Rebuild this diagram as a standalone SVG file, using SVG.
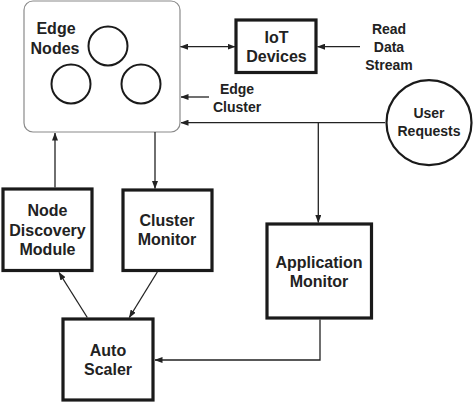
<svg xmlns="http://www.w3.org/2000/svg" width="474" height="403" viewBox="0 0 474 403">
<style>
text{font-family:"Liberation Sans",Arial,sans-serif;font-weight:bold;fill:#222;text-anchor:middle}
.n{font-size:16px}
.s{font-size:14px}
.box{fill:#fff;stroke:#1a1a1a;stroke-width:3.2}
.cl{fill:none;stroke:#1a1a1a;stroke-width:2}
.ln{fill:none;stroke:#222;stroke-width:1.3}
</style>
<defs>
<marker id="ah" markerWidth="8" markerHeight="6" refX="7.5" refY="3" orient="auto" markerUnits="userSpaceOnUse">
<path d="M0,0 L8,3 L0,6 Z" fill="#222"/>
</marker>
<marker id="as" markerWidth="8" markerHeight="6" refX="0.5" refY="3" orient="auto" markerUnits="userSpaceOnUse">
<path d="M8,0 L0,3 L8,6 Z" fill="#222"/>
</marker>
</defs>
<g id="edge-cluster">
<rect x="24" y="1" width="156" height="131" rx="9" fill="#fff" stroke="#8a8a8a" stroke-width="1.2"/>
<circle class="cl" cx="108" cy="46" r="19.5"/>
<circle class="cl" cx="71" cy="84" r="19.5"/>
<circle class="cl" cx="141" cy="84" r="19.5"/>
<text class="n" x="56" y="34">Edge</text>
<text class="n" x="55" y="53.5">Nodes</text>
</g>
<g id="iot-devices">
<rect class="box" x="236" y="20" width="80" height="52.5"/>
<text class="n" x="276.5" y="42.5">IoT</text>
<text class="n" x="276.5" y="62">Devices</text>
</g>
<g id="user-requests">
<circle cx="429" cy="122.7" r="42.5" fill="#fff" stroke="#1a1a1a" stroke-width="2.2"/>
<text class="s" x="429" y="118">User</text>
<text class="s" x="429" y="136">Requests</text>
</g>
<g id="node-discovery">
<rect class="box" x="3" y="189" width="89" height="81.5"/>
<text class="n" x="47.5" y="216">Node</text>
<text class="n" x="47.5" y="235.5">Discovery</text>
<text class="n" x="47.5" y="255">Module</text>
</g>
<g id="cluster-monitor">
<rect class="box" x="123" y="190" width="89" height="80.5"/>
<text class="n" x="167" y="226">Cluster</text>
<text class="n" x="167" y="245">Monitor</text>
</g>
<g id="application-monitor">
<rect class="box" x="267" y="224" width="104.5" height="94"/>
<text class="n" x="319" y="268">Application</text>
<text class="n" x="319" y="287">Monitor</text>
</g>
<g id="auto-scaler">
<rect class="box" x="63" y="319" width="90" height="81"/>
<text class="n" x="108" y="355.5">Auto</text>
<text class="n" x="108" y="375">Scaler</text>
</g>
<g id="connectors">
<line class="ln" x1="180.5" y1="46.7" x2="235" y2="46.7" marker-start="url(#as)" marker-end="url(#ah)"/>
<line class="ln" x1="360" y1="46.7" x2="317.5" y2="46.7" marker-end="url(#ah)"/>
<line class="ln" x1="209" y1="97" x2="181" y2="97" marker-end="url(#ah)"/>
<line class="ln" x1="385" y1="122.7" x2="181" y2="122.7" marker-end="url(#ah)"/>
<line class="ln" x1="318.3" y1="122.7" x2="318.3" y2="222.5" marker-end="url(#ah)"/>
<polyline class="ln" points="320,319.5 320,360 155,360" marker-end="url(#ah)"/>
<line class="ln" x1="55" y1="187.5" x2="55" y2="133" marker-end="url(#ah)"/>
<line class="ln" x1="155" y1="132" x2="155" y2="188.5" marker-end="url(#ah)"/>
<line class="ln" x1="87.3" y1="317.5" x2="59" y2="272.5" marker-end="url(#ah)"/>
<line class="ln" x1="157.3" y1="272" x2="129.3" y2="317.5" marker-end="url(#ah)"/>
</g>
<g id="labels">
<text class="s" x="389" y="34">Read</text>
<text class="s" x="389" y="52">Data</text>
<text class="s" x="389" y="69.5">Stream</text>
<text class="s" x="237" y="94">Edge</text>
<text class="s" x="237" y="112">Cluster</text>
</g>
</svg>
